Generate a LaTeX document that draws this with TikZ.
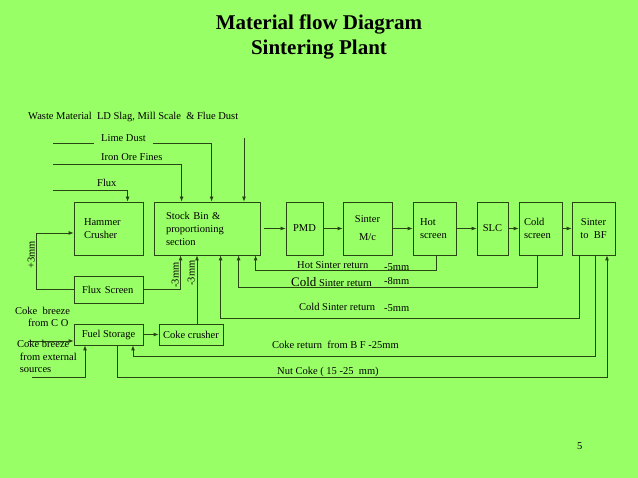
\documentclass[tikz,border=0pt]{standalone}
\usepackage{fontspec}
\setmainfont{Liberation Serif}
\usetikzlibrary{arrows.meta}
\definecolor{slidegreen}{RGB}{153,255,102}
\definecolor{flowline}{RGB}{40,70,20}

\begin{document}
\begin{tikzpicture}[x=1pt,y=-1pt,
    blk/.style={draw=flowline, line width=0.8pt, minimum height=53pt, inner sep=0pt, font=\fontsize{10.5}{13}\selectfont},
    lbl/.style={inner sep=0pt, font=\fontsize{10.5}{12.5}\selectfont},
    ttl/.style={inner sep=0pt, font=\bfseries\fontsize{21}{25}\selectfont, anchor=base},
    flow/.style={draw=flowline, line width=0.8pt},
    arr/.style={flow, -{Latex[length=5pt,width=4pt]}}]
    \useasboundingbox (0,0) rectangle (638,478);
    \path[fill=slidegreen] (0,0) rectangle (638,478);

    \node[ttl] (title) at (319,30) {Material flow Diagram};
    \node[ttl] (subtitle) at (319,55) {Sintering Plant};

    % process line
    \node[blk, minimum width=69pt, text width=49pt, align=left] (hammer) at (108.5,228.5) {Hammer\\Crusher};
    \node[blk, minimum width=106pt, text width=82pt, align=left] (stock) at (207,228.5) {Stock Bin \&\\proportioning\\section};
    \node[blk, minimum width=37pt] (pmd) at (304.5,228.5) {PMD};
    \node[blk, minimum width=49pt, align=center] (sinter) at (367.5,228.5) {Sinter\\[5pt]M/c};
    \node[blk, minimum width=43pt, text width=29pt, align=left] (hot) at (434.5,228.5) {Hot\\screen};
    \node[blk, minimum width=31pt] (slc) at (492.5,228.5) {SLC};
    \node[blk, minimum width=43pt, text width=33pt, align=left] (cold) at (540.5,228.5) {Cold\\screen};
    \node[blk, minimum width=43pt, align=center] (bf) at (593.5,228.5) {Sinter\\to\ \ BF};
    \node[blk, minimum width=69pt, minimum height=27pt, text width=53pt, align=left] (fluxscr) at (108.5,289.5) {Flux Screen};
    \node[blk, minimum width=69pt, minimum height=21pt] (fuel) at (108.5,334.5) {Fuel Storage};
    \node[blk, minimum width=64pt, minimum height=21pt] (coke) at (191,334.5) {Coke crusher};

    \draw[arr] ([xshift=4pt]stock.east) -- (pmd.west);
    \draw[arr] (pmd.east) -- (sinter.west);
    \draw[arr] (sinter.east) -- (hot.west);
    \draw[arr] (hot.east) -- (slc.west);
    \draw[arr] (slc.east) -- (cold.west);
    \draw[arr] (cold.east) -- (bf.west);

    % raw materials
    \node[lbl, anchor=base west] (waste) at (28,120) {Waste Material\ \ LD Slag, Mill Scale\ \ \& Flue Dust};
    \node[lbl, anchor=base west] (lime) at (101,142) {Lime Dust};
    \node[lbl, anchor=base west] (iron) at (101,161) {Iron Ore Fines};
    \node[lbl, anchor=base west] (flux) at (97,187) {Flux};
    \coordinate (limeA) at (53,143);
    \coordinate (limeB) at (94,143);
    \coordinate (limeC) at (153,143);
    \coordinate (ironA) at (53,164);
    \coordinate (fluxA) at (53,190);
    \coordinate (wasteA) at (244,138);
    \draw[flow] (limeA) -- (limeB);
    \draw[arr] (limeC) -| ([xshift=58pt]stock.north west);
    \draw[arr] (ironA) -| ([xshift=28pt]stock.north west);
    \draw[arr] (fluxA) -| ([xshift=54pt]hammer.north west);
    \draw[arr] (wasteA) -- (wasteA |- stock.north);

    % screen returns
    \draw[arr] (fluxscr.west) -- ++(-37,0) |- ([yshift=-4.5pt]hammer.west);
    \node[lbl, rotate=90, anchor=south] (plus3) at (35,255) {+3mm};
    \draw[arr] (fluxscr.east) -| ([xshift=27pt]stock.south west);
    \node[lbl, rotate=90, anchor=south] (minus3a) at (179,275) {-3mm};
    \draw[arr] ([xshift=6pt]coke.north) -- ([xshift=6pt]coke.north |- stock.south);
    \node[lbl, rotate=90, anchor=south] (minus3b) at (195,273) {-3mm};
    \draw[arr] ([xshift=1.5pt]hot.south) -- ++(0,15) -| ([xshift=102pt]stock.south west);
    \node[lbl, anchor=base west] (hotret) at (297,269) {Hot Sinter return};
    \node[lbl, anchor=base west] (hotmm) at (384,271) {-5mm};
    \draw[arr] ([xshift=-3.5pt]cold.south) -- ++(0,32) -| ([xshift=85pt]stock.south west);
    \node[lbl, anchor=base west] (coldret) at (291,287) {{\fontsize{13}{14}\selectfont Cold} Sinter return};
    \node[lbl, anchor=base west] (coldmm) at (384,285) {-8mm};
    \draw[arr] ([xshift=-14.5pt]bf.south) -- ++(0,63) -| ([xshift=67pt]stock.south west);
    \node[lbl, anchor=base west] (bfret) at (299,311) {Cold Sinter return};
    \node[lbl, anchor=base west] (bfmm) at (384,312) {-5mm};

    % coke
    \draw[arr] ([xshift=1.5pt]bf.south) -- ++(0,101) -| ([xshift=24.5pt]fuel.south);
    \node[lbl, anchor=base west] (cokeret) at (272,349) {Coke return\ \ from B F -25mm};
    \draw[arr] ([xshift=8.5pt]fuel.south) -- ++(0,32) -| ([xshift=13.5pt]bf.south);
    \node[lbl, anchor=base west] (nut) at (277,375) {Nut Coke ( 15 -25\ \ mm)};
    \draw[arr] (fuel.east) -- (coke.west);
    \node[lbl, align=left, anchor=base west] (coA) at (15,327) {Coke\ \ breeze\\\hspace*{13pt}from C O};
    \coordinate (coB) at (28,341);
    \draw[arr] (coB) -- (coB -| fuel.west);
    \node[lbl, align=left, anchor=base west] (ext) at (17,373) {Coke breeze\\\ from external\\\ sources};
    \coordinate (extA) at (32,377);
    \draw[arr] (extA) -| ([xshift=-23.5pt]fuel.south);

    \node[lbl, anchor=base west] (page) at (577,450) {5};
\end{tikzpicture}
\end{document}
